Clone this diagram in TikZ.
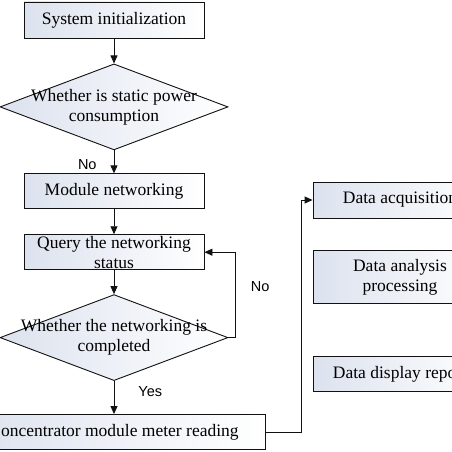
\documentclass[tikz,border=0pt]{standalone}
\usepackage{fontspec}
\setmainfont{Liberation Serif}
\newfontfamily\labelfont{Liberation Sans}
\usepackage{tikz}
\usetikzlibrary{arrows.meta,positioning,shapes.geometric}
\definecolor{FlowShade}{HTML}{DCE2EE}
\definecolor{FlowDark}{HTML}{111111}
\tikzset{
  flowbox/.style={draw=FlowDark,line width=0.9pt,left color=FlowShade,right color=white,align=center,inner sep=0pt,minimum width=180pt,minimum height=35pt,font=\fontsize{17.5}{20}\selectfont},
  decision/.style={diamond,aspect=2.65,draw=FlowDark,line width=0.9pt,left color=FlowShade,right color=white,align=center,inner xsep=-14pt,inner ysep=-12pt,minimum width=228pt,minimum height=86pt,font=\fontsize{17.5}{20}\selectfont},
  flowarrow/.style={-{Triangle[length=8pt,width=7pt]},line width=0.9pt,draw=FlowDark},
  flowlabel/.style={inner sep=0pt,font=\labelfont\fontsize{14.5}{16}\selectfont}
}
\begin{document}
\begin{tikzpicture}[x=1pt,y=-1pt,node distance=25pt]
\useasboundingbox (0,0) rectangle (452,452);
\clip (0,0) rectangle (452,452);
\node[flowbox,minimum height=36pt] (init) at (114,20) {System initialization};
\node[decision,below=25pt of init] (static) {Whether is static power\\consumption};
\node[flowbox,below=23pt of static] (net) {Module networking};
\node[flowbox,below=25pt of net] (query) {Query the networking\\status};
\node[decision,below=24pt of query] (done) {Whether the networking is\\completed};
\node[flowbox,below=33pt of done,minimum width=302pt] (meter) {Concentrator module meter reading};
\node[flowbox,minimum width=174pt,minimum height=36pt] (acq) at (400,200) {Data acquisition};
\node[flowbox,below=32pt of acq,minimum width=174pt,minimum height=53pt] (ana) {Data analysis\\processing};
\node[flowbox,below=52pt of ana,minimum width=174pt] (disp) {Data display report};
\draw[flowarrow] (init) -- (static);
\draw[flowarrow] (static) -- node[flowlabel,left=17pt,pos=0.6] {No} (net);
\draw[flowarrow] (net) -- (query);
\draw[flowarrow] (query) -- (done);
\draw[flowarrow] (done.east) -- ++(7,0) |- node[flowlabel,right=15pt,pos=0.3] {No} (query.east);
\draw[flowarrow] (done) -- node[flowlabel,right=24pt,pos=0.33] {Yes} (meter);
\draw[flowarrow] (meter.east) -- ++(36,0) |- (acq.west);
\end{tikzpicture}
\end{document}
